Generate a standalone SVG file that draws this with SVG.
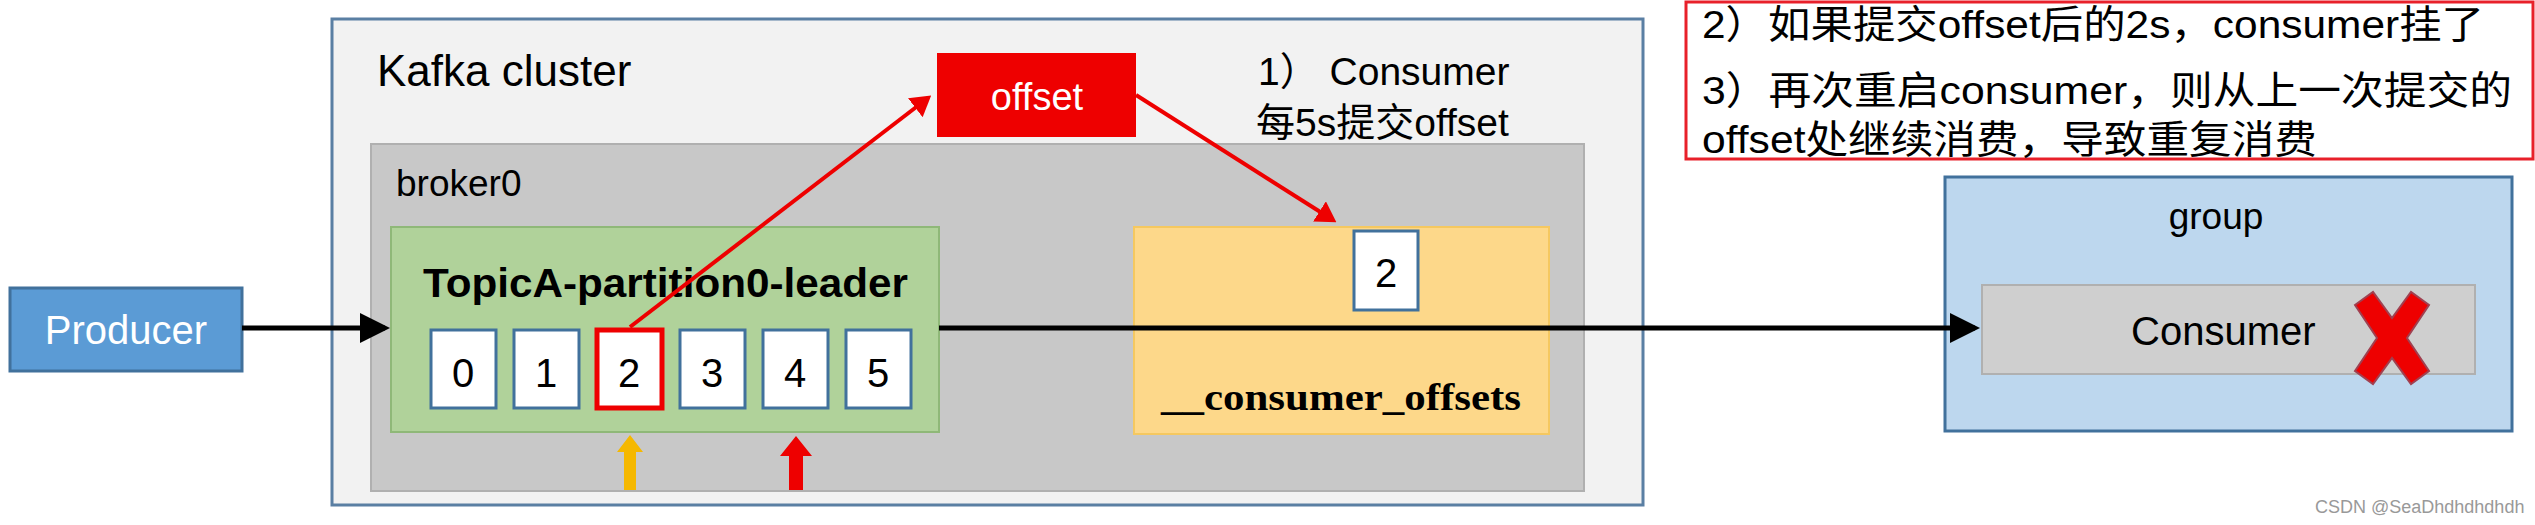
<svg xmlns="http://www.w3.org/2000/svg" width="2535" height="525" viewBox="0 0 2535 525">
<defs>
<style>
text{font-family:"Liberation Sans",Arial,sans-serif;fill:#000}
.cjk{font-family:"Liberation Sans","Noto Sans CJK SC",sans-serif;font-size:39px}
.cell{fill:#fff;stroke:#41719c;stroke-width:3}
.num{font-size:40px;text-anchor:middle}
</style>
<marker id="ab" markerWidth="6" markerHeight="6" refX="5" refY="3" orient="auto" markerUnits="strokeWidth"><path d="M0,0L6,3L0,6z" fill="#000"/></marker>
<marker id="ar" markerWidth="5" markerHeight="6" refX="4" refY="3" orient="auto" markerUnits="strokeWidth"><path d="M0,0L5,3L0,6z" fill="#e00"/></marker>
</defs>
<rect width="2535" height="525" fill="#fff"/>
<g id="cluster"><rect x="332" y="19" width="1311" height="486" fill="#f2f2f2" stroke="#5a7fa3" stroke-width="3"/>
<text x="377" y="86" font-size="44">Kafka cluster</text></g>
<g id="broker0"><rect x="371" y="144" width="1213" height="347" fill="#c8c8c8" stroke="#b0b0b0" stroke-width="2"/>
<text x="396" y="196" font-size="37">broker0</text></g>
<g id="partition"><rect x="391" y="227" width="548" height="205" fill="#b0d29a" stroke="#8fb878" stroke-width="2"/>
<text x="423" y="297" font-size="40" font-weight="bold" textLength="485" lengthAdjust="spacingAndGlyphs">TopicA-partition0-leader</text>
<rect class="cell" x="431" y="330" width="65" height="78"/><text class="num" x="463" y="387">0</text>
<rect class="cell" x="514" y="330" width="65" height="78"/><text class="num" x="546" y="387">1</text>
<rect class="cell" x="597" y="330" width="65" height="78" style="stroke:#e00;stroke-width:5"/><text class="num" x="629" y="387">2</text>
<rect class="cell" x="680" y="330" width="65" height="78"/><text class="num" x="712" y="387">3</text>
<rect class="cell" x="763" y="330" width="65" height="78"/><text class="num" x="795" y="387">4</text>
<rect class="cell" x="846" y="330" width="65" height="78"/><text class="num" x="878" y="387">5</text></g>
<g id="offsets"><rect x="1134" y="227" width="415" height="207" fill="#fdd88a" stroke="#f5c860" stroke-width="2"/>
<rect class="cell" x="1354" y="231" width="64" height="79"/><text class="num" x="1386" y="287">2</text>
<text x="1161" y="410" font-size="37" font-weight="bold" textLength="360" lengthAdjust="spacingAndGlyphs" style="font-family:'Liberation Serif',serif">__consumer_offsets</text></g>
<g id="offset"><rect x="937" y="53" width="199" height="84" fill="#e00"/>
<text x="1037" y="110" font-size="38" text-anchor="middle" style="fill:#fff">offset</text></g>
<g id="note1"><text class="cjk" x="1258" y="85">1）  Consumer</text><text class="cjk" x="1256" y="136">每5s提交offset</text></g>
<g id="note2"><rect x="1686" y="2" width="847" height="157" fill="#fff" stroke="#e8202a" stroke-width="3"/>
<text class="cjk" x="1702" y="38" textLength="782" lengthAdjust="spacingAndGlyphs">2）如果提交offset后的2s，consumer挂了</text>
<text class="cjk" x="1702" y="104" textLength="810" lengthAdjust="spacingAndGlyphs">3）再次重启consumer，则从上一次提交的</text>
<text class="cjk" x="1702" y="153" textLength="615" lengthAdjust="spacingAndGlyphs">offset处继续消费，导致重复消费</text></g>
<g id="producer"><rect x="10" y="288" width="232" height="83" fill="#5b9bd5" stroke="#41719c" stroke-width="3"/>
<text x="126" y="344" font-size="40" text-anchor="middle" style="fill:#fff">Producer</text></g>
<g id="group"><rect x="1945" y="177" width="567" height="254" fill="#bdd7ee" stroke="#41719c" stroke-width="3"/>
<text x="2216" y="229" font-size="37" text-anchor="middle">group</text>
<rect x="1982" y="285" width="493" height="89" fill="#cfcfcf" stroke="#b0b0b0" stroke-width="2"/>
<text x="2131" y="345" font-size="40">Consumer</text>
<path d="M2355,305 L2373,292 L2392,318 L2411,292 L2429,305 L2407,338 L2429,371 L2411,384 L2392,358 L2373,384 L2355,371 L2377,338 Z" fill="#e00" stroke="#a04050" stroke-width="2"/></g>
<g id="connectors">
<line x1="242" y1="328" x2="385" y2="328" stroke="#000" stroke-width="5" marker-end="url(#ab)"/>
<line x1="939" y1="328" x2="1975" y2="328" stroke="#000" stroke-width="5" marker-end="url(#ab)"/>
<line x1="630" y1="327" x2="928" y2="98" stroke="#e00" stroke-width="4" marker-end="url(#ar)"/>
<line x1="1136" y1="95" x2="1333" y2="220" stroke="#e00" stroke-width="4" marker-end="url(#ar)"/>
<path d="M624,490V452H617L630,435L643,452H636V490Z" fill="#f5b800"/>
<path d="M789,490V456H780L796,436L812,456H803V490Z" fill="#e00"/>
</g>
<text x="2315" y="513" font-size="18" style="fill:#999">CSDN @SeaDhdhdhdhdh</text>
</svg>
